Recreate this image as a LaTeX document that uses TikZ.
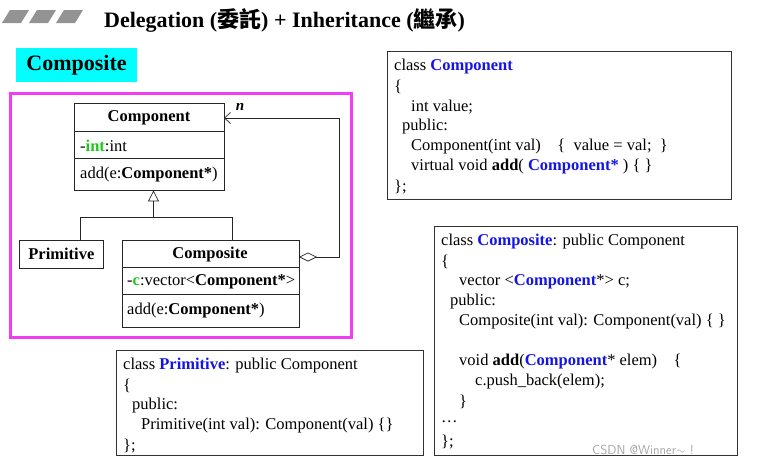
\documentclass[tikz,border=0pt]{standalone}
\usepackage{fontspec}
\setmainfont{Liberation Serif}
\newfontfamily\cjk{Noto Sans CJK TC}
\usetikzlibrary{arrows.meta}
\definecolor{kw}{RGB}{20,20,230}
\definecolor{gr}{RGB}{30,200,30}
\definecolor{cy}{RGB}{0,255,255}
\definecolor{mg}{RGB}{245,60,245}
\begin{document}
\begin{tikzpicture}[x=1pt,y=-1pt,
  box/.style={draw=black!80,line width=0.8pt},
  uml/.style={draw=black!85,line width=0.7pt},
  ln/.style={anchor=west,inner sep=0pt,font=\fontsize{16.5}{18}\selectfont},
  ut/.style={inner sep=0pt,font=\fontsize{16.5}{18}\selectfont}]
\useasboundingbox (0,0) rectangle (758,466);
% header
\foreach \i in {0,1,2}{\fill[gray!85] (2+\i*27,23) -- (10+\i*27,10) -- (29+\i*27,10) -- (21+\i*27,23) -- cycle;}
\node[inner sep=0pt,font=\bfseries\fontsize{22}{24}\selectfont,anchor=west] (title) at (104,20) {Delegation ({\cjk 委託}) + Inheritance ({\cjk 繼承})};
\node[fill=cy,minimum width=121,minimum height=34,inner sep=0pt,font=\bfseries\fontsize{22}{24}\selectfont] (cbox) at (76.5,65) {Composite};
\draw[mg,line width=3pt] (10,93) rectangle (351,337);
% UML Component
\node[uml,minimum width=150,minimum height=87,inner sep=0pt,anchor=north west] (comp) at (74,103) {};
\draw[uml] (74,131) -- (224,131) (74,158) -- (224,158);
\node[ut,font=\bfseries\fontsize{16.5}{18}\selectfont] (compT) at (149,118) {Component};
\node[ut,anchor=west] (compA) at (80,146) {-\textbf{\color{gr}int}:int};
\node[ut,anchor=west] (compM) at (80,175) {add(e:\textbf{Component*})};
% Primitive
\node[uml,minimum width=84,minimum height=28,inner sep=0pt,anchor=north west,font=\bfseries\fontsize{16.5}{18}\selectfont] (prim) at (19,240) {Primitive};
% Composite
\node[uml,minimum width=177,minimum height=87,inner sep=0pt,anchor=north west] (cmp) at (122,240) {};
\draw[uml] (122,267) -- (299,267) (122,294) -- (299,294);
\node[ut,font=\bfseries\fontsize{16.5}{18}\selectfont] (cmpT) at (210,255) {Composite};
\node[ut,anchor=west] (cmpA) at (127,282) {-\textbf{\color{gr}c}:vector<\textbf{Component*}>};
\node[ut,anchor=west] (cmpM) at (127,311) {add(e:\textbf{Component*})};
% inheritance
\coordinate (jn) at (153.5,217);
\draw[uml,-{Triangle[open,width=11pt,length=11pt]}] (jn) -- (153.5,190.4);
\draw[uml] (prim.north -| 80,0) -- (80,217) -- (232,217) -- (232,240);
% aggregation
\coordinate (a1) at (339,257);
\coordinate (a2) at (339,118);
\draw[uml,{Diamond[open,width=9pt,length=18pt]}-{Straight Barb[length=6pt,width=11pt]}] (299,257) -- (a1) -- (a2) -- (224,118);
\node[ut,font=\bfseries\itshape\fontsize{15}{16}\selectfont] (n) at (240,107) {n};
% code box 1
\draw[box] (387,51) rectangle (731,199);
\node[ln] (c1) at (394,67) {class \textbf{\color{kw}Component}};
\node[ln] at (394,87) {\{};
\node[ln] at (411,107) {int value;};
\node[ln] at (402,127) {public:};
\node[ln] at (411,147) {Component(int val)\quad \{\ \ value = val;\ \ \}};
\node[ln] at (411,167) {virtual void \textbf{add}( \textbf{\color{kw}Component*} ) \{ \}};
\node[ln] at (394,187) {\};};
% code box 2
\draw[box] (434,226) rectangle (737,455);
\node[ln] at (441,242) {class \textbf{\color{kw}Composite}: public Component};
\node[ln] at (441,262) {\{};
\node[ln] at (459,282) {vector <\textbf{\color{kw}Component}*> c;};
\node[ln] at (450,302) {public:};
\node[ln] at (459,322) {Composite(int val): Component(val) \{ \}};
\node[ln] at (459,362) {void \textbf{add}(\textbf{\color{kw}Component}* elem)\quad \{};
\node[ln] at (475,382) {c.push\_back(elem);};
\node[ln] at (459,402) {\}};
\node[ln] at (441,422) {\dots};
\node[ln] at (441,442) {\};};
% code box 3
\draw[box] (116,350) rectangle (423,455);
\node[ln] at (123,366) {class \textbf{\color{kw}Primitive}: public Component};
\node[ln] at (123,386) {\{};
\node[ln] at (132,406) {public:};
\node[ln] at (141,426) {Primitive(int val): Component(val) \{\}};
\node[ln] at (123,446) {\};};
\node[anchor=west,inner sep=0pt,text=gray!70,font=\sffamily\fontsize{13}{14}\selectfont] (csdn) at (592,450) {CSDN @Winner$\sim$\ !};
\end{tikzpicture}
\end{document}
